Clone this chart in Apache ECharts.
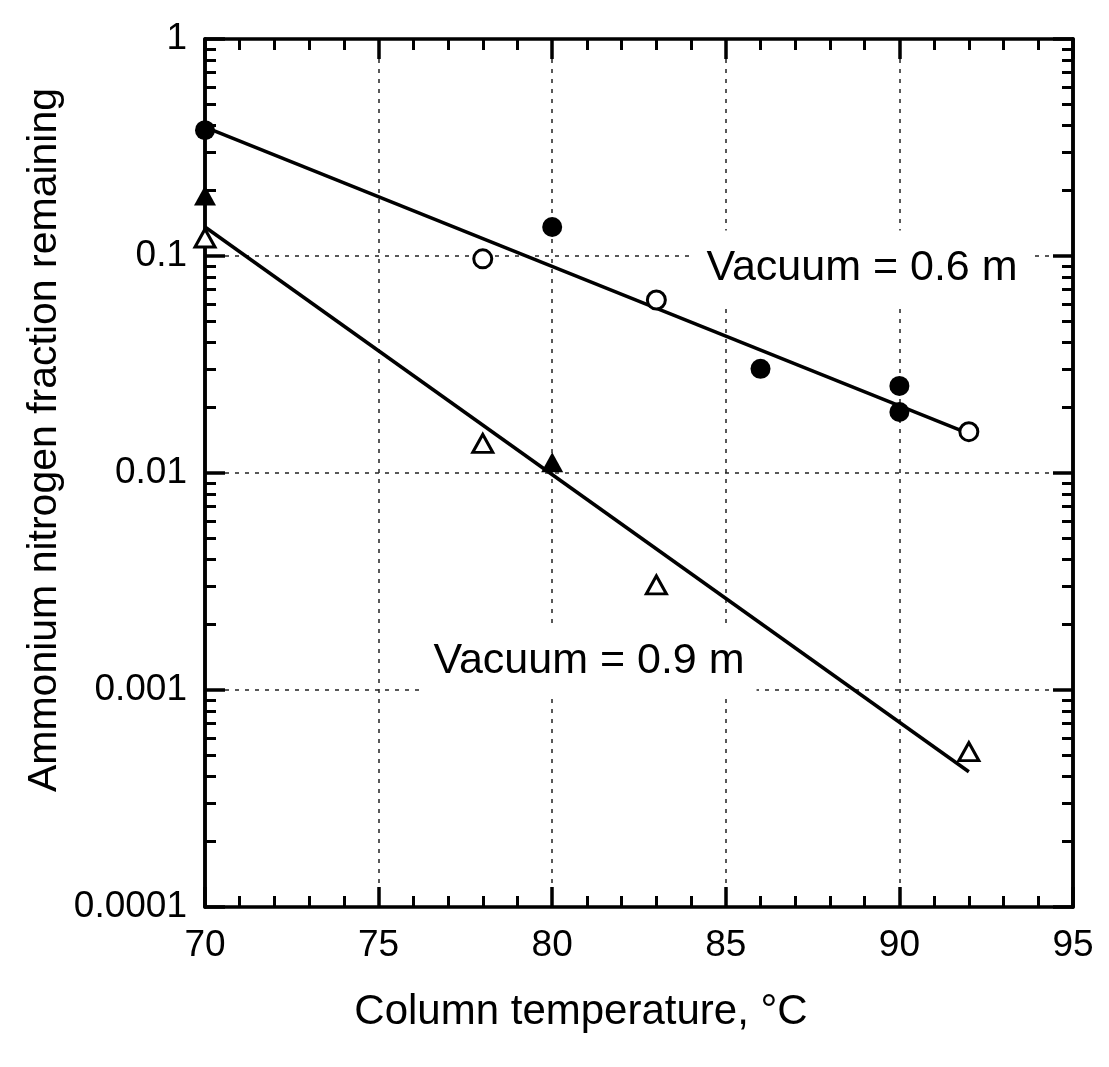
<!DOCTYPE html>
<html>
<head>
<meta charset="utf-8">
<script src="https://cdn.jsdelivr.net/npm/echarts@6/dist/echarts.min.js"></script>
<style>
  html, body { margin: 0; padding: 0; background: #fff; }
  #chart { width: 1109px; height: 1067px; }
</style>
</head>
<body>
<div id="chart"></div>
<script>
const tempFilled06 = [70, 80, 86, 90, 90]
const fracFilled06 = [0.38, 0.136, 0.0302, 0.0252, 0.0191]
const tempOpen06 = [78, 83, 92]
const fracOpen06 = [0.097, 0.0627, 0.0155]

const tempFilled09 = [70, 80]
const fracFilled09 = [0.19, 0.0112]
const tempOpen09 = [70, 78, 83, 92]
const fracOpen09 = [0.121, 0.0137, 0.00305, 0.00052]

const fitTemp = [70, 92]
const fit06 = [0.393, 0.0152]
const fit09 = [0.136, 0.00042]

const yMajor = [0.0001, 0.001, 0.01, 0.1, 1]
const yMajorLabels = ['0.0001', '0.001', '0.01', '0.1', '1']
const yMinor = []
yMajor.slice(0, 4).forEach(d => {
  for (let k = 2; k <= 9; k++) yMinor.push(+(d * k).toPrecision(3))
})

const font = 'Liberation Sans, Arial, Helvetica, sans-serif'
const black = '#000'

function pairs(xs, ys) {
  return xs.map((x, i) => [x, ys[i]])
}

function xAxisDef(position, showLabel) {
  return {
    type: 'value',
    position: position,
    min: 70,
    max: 95,
    interval: 5,
    axisLine: { show: true, onZero: false, lineStyle: { color: black, width: 3.5 } },
    axisTick: { show: true, inside: true, length: 20, lineStyle: { color: black, width: 3.5 } },
    minorTick: { show: true, splitNumber: 5, length: 11, lineStyle: { color: black, width: 3 } },
    axisLabel: {
      show: showLabel,
      margin: 20,
      fontSize: 37,
      fontFamily: font,
      color: black
    },
    splitLine: {
      show: showLabel,
      lineStyle: { color: '#222', width: 1.5, type: [4, 6] }
    }
  }
}

function yAxisDef(position, main) {
  return {
    type: 'log',
    position: position,
    min: 0.0001,
    max: 1,
    logBase: 10,
    axisLine: { show: true, onZero: false, lineStyle: { color: black, width: 3.5 } },
    axisTick: {
      show: true,
      inside: true,
      length: main ? 20 : 11,
      customValues: main ? yMajor : yMinor,
      lineStyle: { color: black, width: main ? 3.5 : 3 }
    },
    axisLabel: {
      show: main && position === 'left',
      margin: 18,
      fontSize: 37,
      fontFamily: font,
      color: black,
      formatter: function (v) {
        let i = Math.round(Math.log10(v)) + 4
        return yMajorLabels[i]
      }
    },
    splitLine: {
      show: main && position === 'left',
      lineStyle: { color: '#222', width: 1.5, type: [4, 6] }
    }
  }
}

function annotation(text, x, y) {
  return {
    type: 'text',
    x: x,
    y: y,
    z: 10,
    style: {
      text: text,
      font: '43px ' + font,
      fill: black,
      align: 'center',
      verticalAlign: 'middle',
      backgroundColor: '#fff',
      padding: [16, 12, 16, 12]
    }
  }
}

const chart = echarts.init(document.getElementById('chart'))

let option = {
  backgroundColor: '#fff',
  animation: false,
  grid: { left: 205, top: 39, width: 868, height: 868 },
  xAxis: [xAxisDef('bottom', true), xAxisDef('top', false)],
  yAxis: [
    yAxisDef('left', true),
    yAxisDef('left', false),
    yAxisDef('right', true),
    yAxisDef('right', false)
  ],
  graphic: [
    {
      type: 'text',
      x: 45,
      y: 440,
      rotation: Math.PI / 2,
      style: {
        text: 'Ammonium nitrogen fraction remaining',
        font: '41px ' + font,
        fill: black,
        align: 'center',
        verticalAlign: 'middle'
      }
    },
    {
      type: 'text',
      x: 581,
      y: 1012,
      style: {
        text: 'Column temperature, °C',
        font: '42px ' + font,
        fill: black,
        align: 'center',
        verticalAlign: 'middle'
      }
    },
    annotation('Vacuum = 0.6 m', 862, 268),
    annotation('Vacuum = 0.9 m', 589, 661)
  ],
  series: [
    {
      name: 'fit 0.6 m',
      type: 'line',
      data: pairs(fitTemp, fit06),
      symbol: 'none',
      lineStyle: { color: black, width: 3.5 },
      z: 2
    },
    {
      name: 'fit 0.9 m',
      type: 'line',
      data: pairs(fitTemp, fit09),
      symbol: 'none',
      lineStyle: { color: black, width: 3.5 },
      z: 2
    },
    {
      name: '0.6 m filled',
      type: 'scatter',
      data: pairs(tempFilled06, fracFilled06),
      symbol: 'circle',
      symbolSize: 20,
      itemStyle: { color: black, opacity: 1 },
      z: 3
    },
    {
      name: '0.6 m open',
      type: 'scatter',
      data: pairs(tempOpen06, fracOpen06),
      symbol: 'circle',
      symbolSize: 18,
      itemStyle: { color: '#fff', borderColor: black, borderWidth: 3, opacity: 1 },
      z: 3
    },
    {
      name: '0.9 m filled',
      type: 'scatter',
      data: pairs(tempFilled09, fracFilled09),
      symbol: 'triangle',
      symbolSize: [22, 20],
      itemStyle: { color: black, opacity: 1 },
      z: 3
    },
    {
      name: '0.9 m open',
      type: 'scatter',
      data: pairs(tempOpen09, fracOpen09),
      symbol: 'triangle',
      symbolSize: [20, 18],
      itemStyle: { color: '#fff', borderColor: black, borderWidth: 3, opacity: 1 },
      z: 3
    }
  ]
}

option && chart.setOption(option)
</script>
</body>
</html>
